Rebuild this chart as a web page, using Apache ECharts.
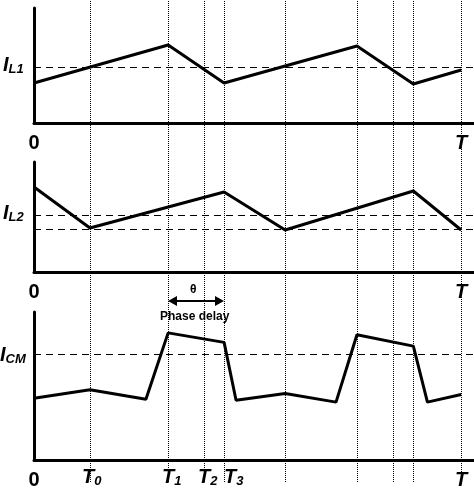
<!DOCTYPE html>
<html lang="en">
<head>
    <meta charset="UTF-8">
    <title>Phase delay waveforms</title>
    <script src="https://cdn.jsdelivr.net/npm/echarts@6/dist/echarts.min.js"></script>
</head>
<body style="margin:0">
<div id="main" style="width:474px;height:490px"></div>
<script>
    // x in units of the period, T = 100
    var iL1X = [0, 31.4, 44.5, 75.6, 88.8, 100];
    var iL1Y = [40, 78, 40, 77, 39, 53];
    var iL2X = [0, 13.1, 44.5, 58.8, 88.8, 100];
    var iL2Y = [85, 44, 80, 42, 81, 42];
    var iCmX = [0, 13.1, 26.2, 31.4, 44.5, 47.3, 58.8, 70.7, 75.6, 88.8, 92.1, 100];
    var iCmY = [65, 74, 64, 134, 124, 63, 70, 61, 132, 120, 61, 69];
    var dashL1 = [56];
    var dashL2 = [57, 43];
    var dashCm = [111];
    var markX = [13.1, 31.4, 39.8, 44.5, 58.8, 75.6, 84.1, 88.8, 100];

    function pairs(xs, ys) { return xs.map(function (x, i) { return [x, ys[i]]; }); }

    var grids = [
        {left: 34, right: 0, top: 8, height: 115},
        {left: 34, right: 0, top: 162, height: 110},
        {left: 34, right: 0, top: 312, height: 156},
        {left: 34, right: 0, top: 0, bottom: 8}
    ];
    var yMax = [115, 110, 156, 1];
    var font = 'Liberation Sans';

    var xAxes = [], yAxes = [], series = [];
    grids.forEach(function (g, i) {
        var last = i === 3;
        xAxes.push({
            gridIndex: i, type: 'value', min: 0, max: 103, interval: 100, show: !last,
            splitLine: {show: false}, axisTick: {show: false},
            axisLine: {onZero: false, lineStyle: {color: '#000', width: 3}},
            axisLabel: {
                margin: 10, showMaxLabel: false,
                formatter: function (v) { return v === 0 ? '{z|0}' : (v === 100 ? '{t|T}' : ''); },
                rich: {
                    z: {fontFamily: font, fontWeight: 'bold', fontSize: 20, color: '#000'},
                    t: {fontFamily: font, fontWeight: 'bold', fontStyle: 'italic', fontSize: 20, color: '#000'}
                }
            }
        });
        yAxes.push({
            gridIndex: i, type: 'value', min: 0, max: yMax[i], show: !last,
            splitLine: {show: false}, axisTick: {show: false}, axisLabel: {show: false},
            axisLine: {lineStyle: {color: '#000', width: 3}}
        });
    });

    function wave(idx, xs, ys, dashes) {
        return {
            type: 'line', xAxisIndex: idx, yAxisIndex: idx, data: pairs(xs, ys),
            symbol: 'none', lineStyle: {color: '#000', width: 3}, z: 5,
            markLine: {
                silent: true, symbol: 'none', label: {show: false},
                lineStyle: {color: '#000', type: [7, 5], width: 1.2},
                data: dashes.map(function (d) { return {yAxis: d}; })
            }
        };
    }
    series.push(wave(0, iL1X, iL1Y, dashL1));
    series.push(wave(1, iL2X, iL2Y, dashL2));
    series.push(wave(2, iCmX, iCmY, dashCm));
    series.push({
        type: 'line', xAxisIndex: 3, yAxisIndex: 3, data: [], z: 1,
        markLine: {
            silent: true, symbol: 'none', label: {show: false},
            lineStyle: {color: '#000', type: 'dotted', width: 1},
            data: markX.map(function (x) { return {xAxis: x}; })
        }
    });

    var sub = {fontFamily: font, fontWeight: 'bold', fontStyle: 'italic', color: '#000'};
    function lbl(x, y, main, s) {
        return {
            type: 'text', left: x, top: y, z: 10,
            style: {
                text: '{m|' + main + '}{s|' + s + '}', rich: {
                    m: Object.assign({fontSize: 20}, sub),
                    s: Object.assign({fontSize: 13, padding: [8, 0, 0, 0]}, sub)
                }
            }
        };
    }

    var chart = echarts.init(document.getElementById('main'));
    chart.setOption({
        animation: false,
        grid: grids, xAxis: xAxes, yAxis: yAxes, series: series,
        graphic: [
            lbl(3, 55, 'I', 'L1'),
            lbl(3, 203, 'I', 'L2'),
            lbl(0, 345, 'I', 'CM'),
            lbl(82, 467, 'T', '0'),
            lbl(162, 467, 'T', '1'),
            lbl(198, 467, 'T', '2'),
            lbl(224, 467, 'T', '3'),
            {type: 'line', shape: {x1: 171, y1: 301, x2: 221, y2: 301}, style: {stroke: '#000', lineWidth: 2}},
            {type: 'polygon', shape: {points: [[168, 301], [177, 296], [177, 306]]}, style: {fill: '#000'}},
            {type: 'polygon', shape: {points: [[224, 301], [215, 296], [215, 306]]}, style: {fill: '#000'}},
            {type: 'text', left: 190, top: 284, style: {text: 'θ', fontFamily: font, fontWeight: 'bold', fontSize: 12, fill: '#000'}},
            {type: 'text', left: 160, top: 311, style: {text: 'Phase delay', fontFamily: font, fontWeight: 'bold', fontSize: 12, fill: '#000'}}
        ]
    });
</script>
</body>
</html>
